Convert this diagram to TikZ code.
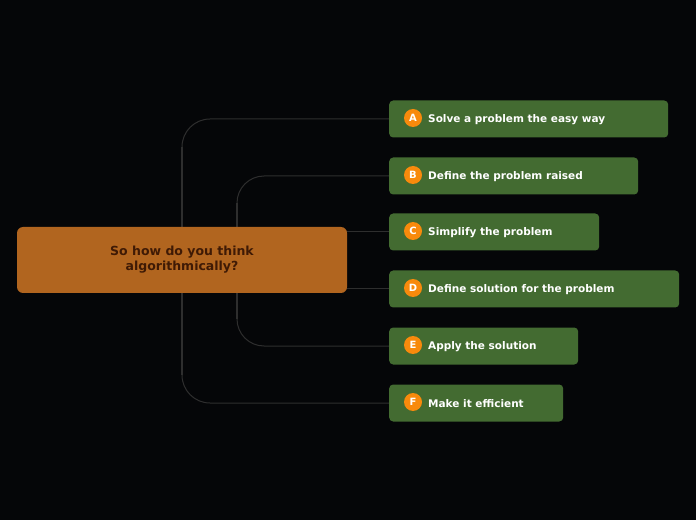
\documentclass[tikz,border=0pt]{standalone}
\usepackage{fontspec}
\setmainfont{DejaVu Sans}
\definecolor{bg}{HTML}{050608}
\definecolor{mainc}{HTML}{B1651F}
\definecolor{maint}{HTML}{3F1A05}
\definecolor{leaf}{HTML}{436B31}
\definecolor{badge}{HTML}{F88A0C}
\definecolor{conn}{HTML}{2E2E2E}
\tikzset{
 leafbox/.style={fill=leaf, rounded corners=4pt, anchor=west, minimum height=37pt, inner xsep=0pt, text=white, font=\bfseries\fontsize{10.5}{12}\selectfont},
 badgec/.style={circle, fill=badge, inner sep=0pt, minimum size=18pt, text=white, font=\bfseries\fontsize{10}{10}\selectfont},
 thin/.style={draw=conn, line width=1pt},
 thick/.style={draw=conn, line width=2.6pt},
}
\begin{document}
\begin{tikzpicture}[x=1pt,y=1pt]
\fill[bg] (0,0) rectangle (696,520);
\useasboundingbox (0,0) rectangle (696,520);
% connectors
\coordinate (oa) at (389,401);
\path[thin] (389,401) -- (210,401) arc (90:180:28) -- (182,145) arc (180:270:28) -- (389,117);
\path[thick] (182,373) -- (182,145);
\path[thin] (389,344) -- (264,344) arc (90:180:27) -- (237,201) arc (180:270:27) -- (389,174);
\path[thick] (237,317) -- (237,201);
\path[thin] (340,288) -- (389,288);
\path[thin] (340,231) -- (389,231);
% main node
\node[fill=mainc, rounded corners=6pt, minimum width=330pt, minimum height=66pt, text=maint, align=center, font=\bfseries\fontsize{12.5}{15}\selectfont] (m) at (182,260) {So how do you think\\algorithmically?};
% leaves
\foreach \n/\y/\w/\l/\t in {a/401/279/A/Solve a problem the easy way, b/344/249/B/Define the problem raised, c/288/210/C/Simplify the problem, d/231/290/D/Define solution for the problem, e/174/189/E/Apply the solution, f/117/174/F/Make it efficient}{
 \node[leafbox, minimum width=\w pt] (\n) at (389,\y) {};
 \node[badgec] (\n b) at (413,\y+1) {\l};
 \node[anchor=west, text=white, font=\bfseries\fontsize{10.5}{12}\selectfont, inner sep=0pt] (\n t) at (428,\y-1) {\t};
}
\end{tikzpicture}
\end{document}
